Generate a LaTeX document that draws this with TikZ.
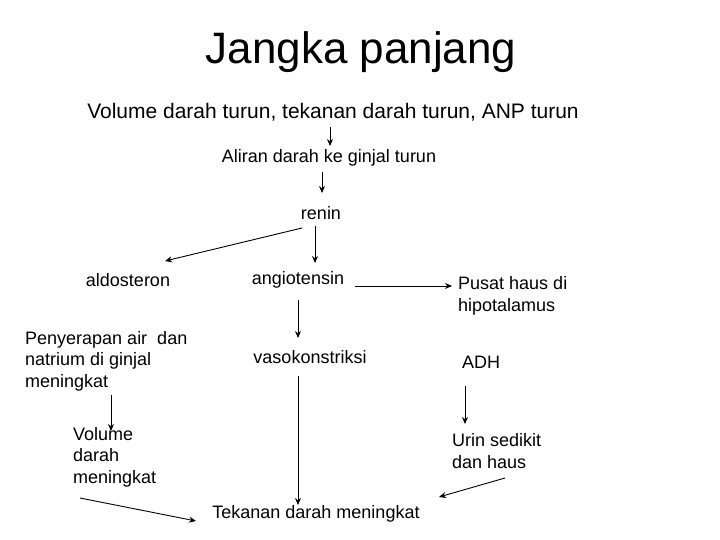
\documentclass[tikz,border=0pt]{standalone}
\usepackage{fontspec}
\setmainfont{Liberation Sans}
\usetikzlibrary{arrows.meta}
\begin{document}
\begin{tikzpicture}[x=1pt,y=-1pt,
  txt/.style={font=\fontsize{18}{21.5}\selectfont,align=left,inner sep=0pt},
  arr/.style={-{Stealth[length=7pt,width=6pt]},line width=0.9pt}]
\useasboundingbox (0,0) rectangle (720,540);
\node[font=\fontsize{44}{50}\selectfont,inner sep=0pt] (t) at (361,52) {Jangka panjang};
\node[txt,font=\fontsize{21}{25}\selectfont] (a) at (333,112) {Volume darah turun, tekanan darah turun, ANP turun};
\node[txt] (b) at (329,158) {Aliran darah ke ginjal turun};
\node[txt] (c) at (321,213) {renin};
\node[txt] (ald) at (128,280) {aldosteron};
\node[txt] (ang) at (298,280) {angiotensin};
\node[txt,anchor=west] (pus) at (458,296) {Pusat haus di\\hipotalamus};
\node[txt,anchor=west] (pen) at (25,361) {Penyerapan air\ \ dan\\natrium di ginjal\\meningkat};
\node[txt] (vas) at (310,357) {vasokonstriksi};
\node[txt,anchor=west] (adh) at (462,362) {ADH};
\node[txt,anchor=west] (vol) at (73,457) {Volume\\darah\\meningkat};
\node[txt,anchor=west] (uri) at (452,451) {Urin sedikit\\dan haus};
\node[txt] (tek) at (316,514) {Tekanan darah meningkat};
\coordinate (p1) at (330,127); \coordinate (p2) at (330,146);
\coordinate (p3) at (322,172); \coordinate (p4) at (322,193);
\coordinate (p5) at (315,226); \coordinate (p6) at (315,263);
\coordinate (p7) at (302,228); \coordinate (p8) at (165,261);
\coordinate (p9) at (355,286); \coordinate (p10) at (452,286);
\coordinate (p11) at (298,300); \coordinate (p12) at (298,338);
\coordinate (p13) at (465,386); \coordinate (p14) at (465,424);
\coordinate (p15) at (111,395); \coordinate (p16) at (111,431);
\coordinate (p17) at (298,376); \coordinate (p18) at (298,505);
\coordinate (p19) at (80,498); \coordinate (p20) at (196,521);
\coordinate (p21) at (505,478); \coordinate (p22) at (439,497);
\draw[arr] (p1)--(p2); \draw[arr] (p3)--(p4); \draw[arr] (p5)--(p6);
\draw[arr] (p7)--(p8); \draw[arr] (p9)--(p10); \draw[arr] (p11)--(p12);
\draw[arr] (p13)--(p14); \draw[arr] (p15)--(p16); \draw[arr] (p17)--(p18);
\draw[arr] (p19)--(p20); \draw[arr] (p21)--(p22);
\end{tikzpicture}
\end{document}
